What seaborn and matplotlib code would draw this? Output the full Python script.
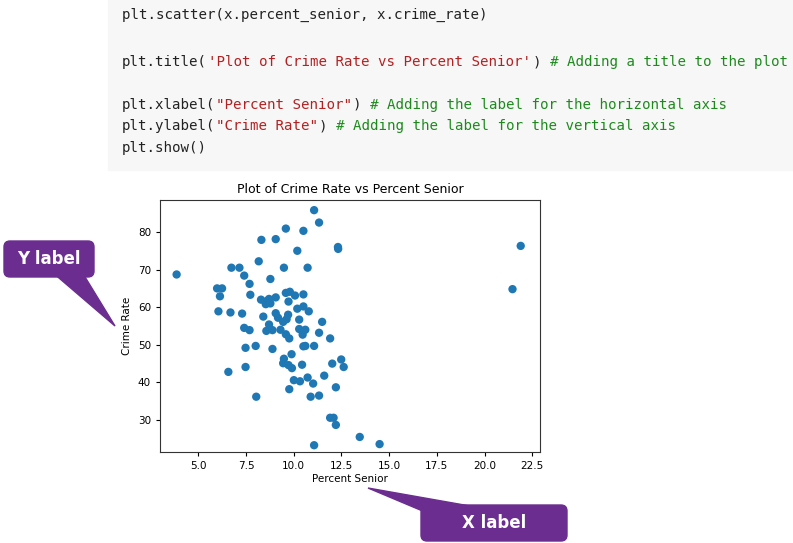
import matplotlib
matplotlib.use("Agg")
import matplotlib.pyplot as plt
import seaborn as sns
import pandas as pd
from matplotlib.patches import FancyBboxPatch, Polygon, Rectangle

# Data
percent_senior = [3.87, 11.07, 11.33, 9.59, 10.51, 8.31, 9.06, 10.19, 12.32, 12.33,
                  8.17, 6.74, 7.16, 9.49, 10.73, 7.41, 8.78, 7.69, 5.99, 6.25,
                  6.14, 7.73, 8.29, 8.61, 8.71, 9.06, 8.54, 8.78, 9.59, 9.80,
                  10.07, 10.51, 9.73, 6.06, 6.69, 7.30, 10.19, 10.51, 10.79, 8.41,
                  9.06, 9.18, 9.71, 9.63, 9.45, 11.49, 10.29, 7.41, 7.69, 8.71,
                  8.57, 8.89, 9.31, 9.59, 9.77, 10.29, 10.61, 10.47, 11.33, 11.91,
                  7.48, 8.01, 8.89, 9.89, 10.51, 10.61, 11.07, 9.49, 9.45, 9.73,
                  9.91, 10.44, 12.02, 12.49, 12.62, 6.58, 7.48, 10.01, 10.33, 10.73,
                  11.02, 11.60, 12.21, 9.77, 8.04, 10.89, 11.33, 11.91, 12.09, 12.21,
                  13.46, 11.07, 14.50, 21.46, 21.89]
crime_rate = [68.7, 85.8, 82.5, 80.9, 80.3, 77.9, 78.1, 75.0, 76.0, 75.5,
              72.2, 70.5, 70.5, 70.5, 70.5, 68.4, 67.5, 66.2, 65.0, 65.0,
              62.9, 63.3, 62.0, 61.7, 62.2, 62.6, 60.8, 61.0, 63.8, 64.1,
              63.1, 63.4, 61.5, 58.9, 58.6, 58.3, 59.6, 60.2, 58.9, 57.5,
              58.4, 57.2, 58.0, 56.8, 56.1, 56.1, 56.7, 54.5, 53.9, 55.4,
              53.7, 53.9, 54.0, 52.8, 51.7, 54.2, 54.0, 52.7, 53.2, 51.7,
              49.2, 49.7, 48.9, 47.5, 49.6, 49.7, 49.7, 46.3, 45.1, 44.6,
              43.8, 44.7, 45.0, 46.1, 44.1, 42.8, 44.1, 40.6, 40.3, 41.3,
              39.7, 41.8, 38.7, 38.2, 36.2, 36.2, 36.5, 30.6, 30.6, 28.7,
              25.5, 23.3, 23.6, 64.8, 76.3]
x_ticks = [5.0, 7.5, 10.0, 12.5, 15.0, 17.5, 20.0, 22.5]
y_ticks = [30, 40, 50, 60, 70, 80]

code_lines = [
    (15, [("plt.scatter(x.percent_senior, x.crime_rate)", "#222222")]),
    (62, [("plt.title(", "#222222"), ("'Plot of Crime Rate vs Percent Senior'", "#b22222"),
          (") ", "#222222"), ("# Adding a title to the plot", "#1e8a1e")]),
    (105, [("plt.xlabel(", "#222222"), ('"Percent Senior"', "#b22222"),
           (") ", "#222222"), ("# Adding the label for the horizontal axis", "#1e8a1e")]),
    (126, [("plt.ylabel(", "#222222"), ('"Crime Rate"', "#b22222"),
           (") ", "#222222"), ("# Adding the label for the vertical axis", "#1e8a1e")]),
    (148, [("plt.show()", "#222222")]),
]

df = pd.DataFrame({"percent_senior": percent_senior, "crime_rate": crime_rate})

W, H = 793, 543
fig = plt.figure(figsize=(W / 100, H / 100), dpi=100)

# background layer in pixel coordinates
bg = fig.add_axes([0, 0, 1, 1])
bg.set_xlim(0, W)
bg.set_ylim(H, 0)
bg.axis("off")
bg.add_patch(Rectangle((108, 0), W - 108, 170, color="#f7f7f7"))
char_w = 8.56
for y, parts in code_lines:
    x = 122
    for txt, col in parts:
        bg.text(x, y, txt, color=col, family="DejaVu Sans Mono", fontsize=10.2,
                va="center", ha="left")
        x += len(txt) * char_w

# the scatter plot
ax = fig.add_axes([160 / W, (H - 452) / H, 380 / W, 252 / H])
sns.scatterplot(data=df, x="percent_senior", y="crime_rate", ax=ax,
                color="#1f77b4", s=36, edgecolor="none", alpha=1)
ax.set_xlim(3.0, 22.9)
ax.set_ylim(21.5, 88.5)
ax.set_xticks(x_ticks)
ax.set_yticks(y_ticks)
ax.tick_params(labelsize=7.5, length=3)
ax.set_title("Plot of Crime Rate vs Percent Senior", fontsize=9, pad=5)
ax.set_xlabel("Percent Senior", fontsize=7.5, labelpad=2)
ax.set_ylabel("Crime Rate", fontsize=7.5, labelpad=4)
for s in ax.spines.values():
    s.set_color("#333333")
    s.set_linewidth(0.8)

# callouts on top
top = fig.add_axes([0, 0, 1, 1])
top.set_xlim(0, W)
top.set_ylim(H, 0)
top.axis("off")
top.patch.set_alpha(0)
purple = "#6b2d8f"
top.add_patch(Polygon([(52, 272), (82, 272), (115, 326)], closed=True, color=purple))
top.add_patch(FancyBboxPatch((4, 241), 90, 36, boxstyle="round,pad=0,rounding_size=6",
                             color=purple))
top.text(49, 259, "Y label", color="white", fontsize=12, fontweight="bold",
         ha="center", va="center")
top.add_patch(Polygon([(425, 512), (470, 506), (368, 488)], closed=True, color=purple))
top.add_patch(FancyBboxPatch((421, 505), 146, 36, boxstyle="round,pad=0,rounding_size=6",
                             color=purple))
top.text(494, 523, "X label", color="white", fontsize=12, fontweight="bold",
         ha="center", va="center")

fig.savefig("out.png", dpi=100)
